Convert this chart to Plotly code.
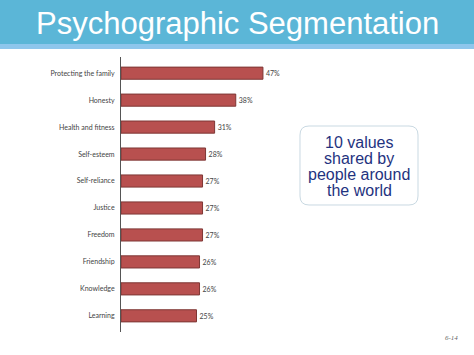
import plotly.graph_objects as go

categories = ["Protecting the family", "Honesty", "Health and fitness", "Self-esteem",
              "Self-reliance", "Justice", "Freedom", "Friendship", "Knowledge", "Learning"]
values = [47, 38, 31, 28, 27, 27, 27, 26, 26, 25]
value_labels = [f"{v}%" for v in values]
box_lines = ["10 values", "shared by", "people around", "the world"]

W, H = 474, 355
L, T, B = 121, 57, 23
PW = 151
PH = H - T - B
R = W - L - PW

def px(x):
    return (x - L) / PW

def py(y):
    return (H - B - y) / PH

fig = go.Figure()
fig.add_trace(go.Bar(
    y=categories, x=values, orientation="h",
    marker=dict(color="#B8504F", line=dict(color="#7E3735", width=1)),
    text=value_labels, textposition="outside", cliponaxis=False,
    textfont=dict(size=7, color="#444444", family="Lato"),
    width=0.45, hoverinfo="skip",
))

shapes = []
shapes.append(dict(type="rect", xref="paper", yref="paper", x0=px(0), x1=px(W), y0=py(0), y1=py(44),
                   fillcolor="#5BB6D7", line=dict(width=0), layer="below"))
shapes.append(dict(type="rect", xref="paper", yref="paper", x0=px(0), x1=px(W), y0=py(44), y1=py(49),
                   fillcolor="#8EC6EC", line=dict(width=0), layer="below"))
x0, x1, y0, y1, r = 300, 418, 126, 205, 9
def P(x, y):
    return f"{px(x):.5f},{py(y):.5f}"
path = (f"M {P(x0 + r, y0)} L {P(x1 - r, y0)} Q {P(x1, y0)} {P(x1, y0 + r)} "
        f"L {P(x1, y1 - r)} Q {P(x1, y1)} {P(x1 - r, y1)} "
        f"L {P(x0 + r, y1)} Q {P(x0, y1)} {P(x0, y1 - r)} "
        f"L {P(x0, y0 + r)} Q {P(x0, y0)} {P(x0 + r, y0)} Z")
shapes.append(dict(type="path", xref="paper", yref="paper", path=path,
                   line=dict(color="#C9D9E2", width=1), fillcolor="white"))

annotations = [
    dict(text="Psychographic Segmentation", xref="paper", yref="paper",
         x=px(237), y=py(24), xanchor="center", yanchor="middle", showarrow=False,
         font=dict(family="Liberation Sans, Arial", size=31, color="white")),
    dict(text="<i>6-14</i>", xref="paper", yref="paper",
         x=px(451), y=py(338), xanchor="center", yanchor="middle", showarrow=False,
         font=dict(family="Liberation Serif", size=7, color="#666666")),
]
for i, line in enumerate(box_lines):
    annotations.append(dict(text=line, xref="paper", yref="paper",
                            x=px(359), y=py(142 + 16 * i), xanchor="center", yanchor="middle",
                            showarrow=False,
                            font=dict(family="Liberation Sans, Arial", size=16, color="#1F3380")))

fig.update_layout(
    width=W, height=H,
    margin=dict(l=L, r=R, t=T, b=B, pad=0),
    paper_bgcolor="white", plot_bgcolor="white",
    showlegend=False,
    shapes=shapes, annotations=annotations,
    xaxis=dict(range=[0, 50], visible=False, fixedrange=True),
    yaxis=dict(range=[9.6, -0.6], showline=True, linecolor="#555555", linewidth=1,
               showgrid=False, zeroline=False, ticks="", ticklabelstandoff=4,
               tickfont=dict(size=7, color="#444444", family="Lato"), fixedrange=True),
)

fig.write_html("out.html")
